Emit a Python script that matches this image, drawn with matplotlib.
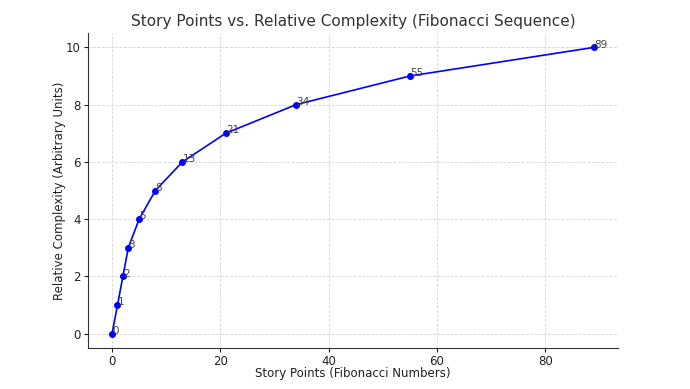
import matplotlib
matplotlib.use("Agg")
import matplotlib.pyplot as plt

story_points = [0, 1, 2, 3, 5, 8, 13, 21, 34, 55, 89]
complexity = [0, 1, 2, 3, 4, 5, 6, 7, 8, 9, 10]

fig = plt.figure(figsize=(6.9, 3.89), dpi=100)
ax = fig.add_axes([0.1275, 0.1054, 0.7682, 0.8096])

ax.plot(story_points, complexity, marker="o", color="blue", markersize=4, linewidth=1.2)
for sp, c in zip(story_points, complexity):
    ax.annotate(str(sp), (sp, c), xytext=(0, 2), textcoords="offset points",
                fontsize=7.5, color="#444444", ha="left", va="center")

ax.set_title("Story Points vs. Relative Complexity (Fibonacci Sequence)", fontsize=11, color="#333333", pad=5)
ax.set_xlabel("Story Points (Fibonacci Numbers)", fontsize=8.5, color="#222222", labelpad=-1)
ax.set_ylabel("Relative Complexity (Arbitrary Units)", fontsize=8.5, color="#222222", labelpad=0)
ax.tick_params(labelsize=8.5, colors="#222222", length=3, pad=2)
ax.grid(True, linestyle="--", linewidth=0.6, color="#d5d5d5")
for side in ["left", "bottom"]:
    ax.spines[side].set_color("#333333")
ax.spines["top"].set_visible(False)
ax.spines["right"].set_visible(False)

fig.savefig("out.png", dpi=100)
